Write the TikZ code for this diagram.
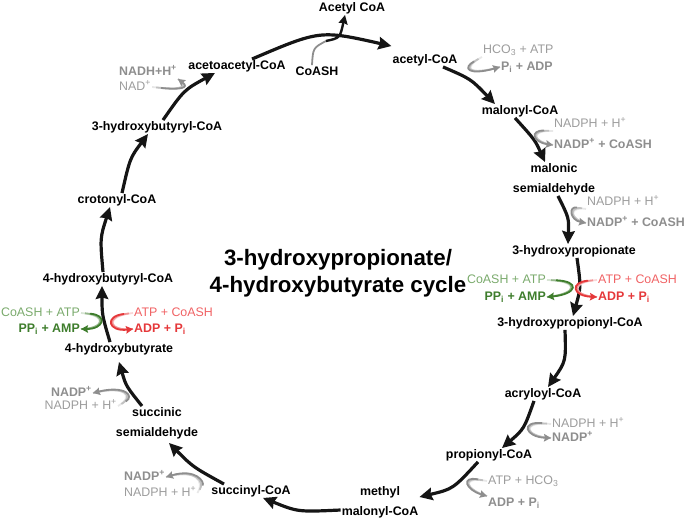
\documentclass[tikz,border=0pt]{standalone}
\usepackage{fontspec}
\setmainfont{Liberation Sans}
\usepackage{tikz}
\usetikzlibrary{arrows.meta}

\definecolor{cofgray}{HTML}{8E8E8E}
\definecolor{txtgray}{HTML}{9C9C9C}
\definecolor{darkgreen}{HTML}{3E7D2C}
\definecolor{lightgreen}{HTML}{7AAA6C}
\definecolor{brightred}{HTML}{E5383A}
\definecolor{lightred}{HTML}{F06264}
\definecolor{arrowblack}{HTML}{151515}

\begin{document}
\begin{tikzpicture}[x=1pt, y=-1pt,
    metab/.style={font=\bfseries\fontsize{12.4}{20}\selectfont, inner sep=1pt,
      text height=9pt, text depth=2.5pt},
    metabtwo/.style={font=\bfseries\fontsize{12.4}{20}\selectfont, inner sep=1pt,
      align=center},
    cofreg/.style={font=\fontsize{12.4}{14}\selectfont, inner sep=1pt,
      text height=9pt, text depth=2.5pt, text=txtgray},
    cofbold/.style={cofreg, font=\bfseries\fontsize{12.4}{14}\selectfont, text=cofgray},
    cycletitle/.style={font=\bfseries\fontsize{22.3}{27}\selectfont, align=center},
    mainarrow/.style={draw=arrowblack, line width=3.2pt,
      -{Stealth[length=13pt, width=12.5pt, inset=1.5pt]}},
    % cofactor arrows fade in from their start
    cofarrow/.style={line width=1.8pt, draw=#1, shorten <=9pt,
      -{Stealth[length=7pt, width=7.5pt, inset=1pt]},
      preaction={draw=#1!20, line width=1.8pt, shorten <=0pt, -},
      preaction={draw=#1!55, line width=1.8pt, shorten <=4pt, -}},
  ]
  \useasboundingbox (0,0) rectangle (685,519);

  % metabolites of the cycle
  \node[metab] (acetoacetyl) at (237,66) {acetoacetyl-CoA};
  \node[metab] (acetyl) at (425,60) {acetyl-CoA};
  \node[metab] (acetylout) at (352,8) {Acetyl CoA};
  \node[metab] (coash) at (317,72) {CoASH};
  \node[metab] (malonyl) at (520,111) {malonyl-CoA};
  \node[metabtwo] (malonicsa) at (554,179) {malonic\\semialdehyde};
  \node[metab] (hp) at (574,251) {3-hydroxypropionate};
  \node[metab] (hpcoa) at (570,323) {3-hydroxypropionyl-CoA};
  \node[metab] (acryloyl) at (543,394) {acryloyl-CoA};
  \node[metab] (propionyl) at (489,455) {propionyl-CoA};
  \node[metabtwo] (methylmalonyl) at (380,502) {methyl\\malonyl-CoA};
  \node[metab] (succinyl) at (251,491) {succinyl-CoA};
  \node[metabtwo] (succinicsa) at (157,423) {succinic\\semialdehyde};
  \node[metab] (hb) at (119,349) {4-hydroxybutyrate};
  \node[metab] (hbcoa) at (108,279) {4-hydroxybutyryl-CoA};
  \node[metab] (crotonyl) at (117,200) {crotonyl-CoA};
  \node[metab] (hbucoa) at (157,127) {3-hydroxybutyryl-CoA};

  \node[cycletitle] (cycle) at (338,273) {3-hydroxypropionate/\\4-hydroxybutyrate cycle};

  % cofactors
  \node[cofreg, anchor=west] (hco3atp) at (482,50) {HCO\textsubscript{3} + ATP};
  \node[cofbold, anchor=west] (piadp) at (500,67) {P\textsubscript{i} + ADP};
  \node[cofreg, anchor=west] (nadph1) at (553,124) {NADPH + H\textsuperscript{+}};
  \node[cofbold, anchor=west] (nadp1) at (553,145) {NADP\textsuperscript{+} + CoASH};
  \node[cofreg, anchor=west] (nadph2) at (586,202) {NADPH + H\textsuperscript{+}};
  \node[cofbold, anchor=west] (nadp2) at (586,223) {NADP\textsuperscript{+} + CoASH};
  \node[cofreg, anchor=east, text=lightgreen] (coashatp1) at (547,280) {CoASH + ATP};
  \node[cofbold, anchor=east, text=darkgreen] (ppiamp1) at (547,297) {PP\textsubscript{i} + AMP};
  \node[cofreg, anchor=west, text=lightred] (atpcoash1) at (597,280) {ATP + CoASH};
  \node[cofbold, anchor=west, text=brightred] (adppi1) at (597,297) {ADP + P\textsubscript{i}};
  \node[cofreg, anchor=west] (nadph3) at (551,424) {NADPH + H\textsuperscript{+}};
  \node[cofbold, anchor=west] (nadp3) at (551,438) {NADP\textsuperscript{+}};
  \node[cofreg, anchor=west] (atphco3) at (487,481) {ATP + HCO\textsubscript{3}};
  \node[cofbold, anchor=west] (adppi2) at (487,503) {ADP + P\textsubscript{i}};
  \node[cofbold, anchor=west] (nadp4) at (123,477) {NADP\textsuperscript{+}};
  \node[cofreg, anchor=west] (nadph4) at (123,493) {NADPH + H\textsuperscript{+}};
  \node[cofbold, anchor=east] (nadp5) at (93,393) {NADP\textsuperscript{+}};
  \node[cofreg, anchor=east] (nadph5) at (118,406) {NADPH + H\textsuperscript{+}};
  \node[cofreg, anchor=east, text=lightgreen] (coashatp2) at (81,313) {CoASH + ATP};
  \node[cofbold, anchor=east, text=darkgreen] (ppiamp2) at (81,329) {PP\textsubscript{i} + AMP};
  \node[cofreg, anchor=west, text=lightred] (atpcoash2) at (133,313) {ATP + CoASH};
  \node[cofbold, anchor=west, text=brightred] (adppi3) at (133,329) {ADP + P\textsubscript{i}};
  \node[cofbold, anchor=west] (nadhh) at (118,72) {NADH+H\textsuperscript{+}};
  \node[cofreg, anchor=west] (nad) at (118,87) {NAD\textsuperscript{+}};

  % main cycle
  \draw[mainarrow] ([xshift=15pt]acetoacetyl.north) .. controls (320,30) .. ([yshift=7pt]acetyl.north west);
  \draw[mainarrow] ([xshift=18pt]acetyl.south) .. controls (471,79) .. ([xshift=-25pt]malonyl.north);
  \draw[mainarrow] ([xshift=-5pt]malonyl.south) .. controls (535,140) .. ([xshift=-9pt]malonicsa.north);
  \draw[mainarrow] ([xshift=4pt]malonicsa.south) .. controls (569,218) .. ([xshift=-6pt]hp.north);
  \draw[mainarrow] ([xshift=3pt]hp.south) .. controls (581,287) .. ([xshift=3pt]hpcoa.north);
  \draw[mainarrow] ([xshift=-5pt]hpcoa.south) .. controls (566,361) .. ([xshift=5pt]acryloyl.north);
  \draw[mainarrow] ([xshift=-9pt]acryloyl.south) .. controls (524,429) .. ([xshift=13pt]propionyl.north);
  \draw[mainarrow] ([xshift=-11pt]propionyl.south) .. controls (453,489) .. ([yshift=5pt]methylmalonyl.east);
  \draw[mainarrow] ([yshift=-8pt]methylmalonyl.west) .. controls (298,512) .. ([xshift=12pt]succinyl.south);
  \draw[mainarrow] ([xshift=-27pt]succinyl.north) .. controls (193,467) .. ([xshift=12pt,yshift=-3pt]succinicsa.south);
  \draw[mainarrow] ([xshift=-15pt]succinicsa.north) .. controls (126,386) .. ([yshift=-6pt]hb.south);
  \draw[mainarrow] ([xshift=-9pt]hb.north) .. controls (102,315) .. ([xshift=-6pt]hbcoa.south);
  \draw[mainarrow] ([xshift=-5pt]hbcoa.north) .. controls (100,238) .. ([xshift=-7pt]crotonyl.south);
  \draw[mainarrow] ([xshift=5pt]crotonyl.north) .. controls (130,158) .. ([xshift=-9pt]hbucoa.south);
  \draw[mainarrow] ([xshift=6pt]hbucoa.north) .. controls (184,90) .. ([xshift=-22pt]acetoacetyl.south);

  % CoASH joins and acetyl-CoA leaves
  \coordinate (join) at (326,41);
  \draw[cofgray, line width=1.8pt] ([xshift=-5pt]coash.north) .. controls (313,48) .. (join);
  \draw[arrowblack, line width=2.4pt, -{Stealth[length=9pt, width=9pt, inset=1pt]}]
    (join) .. controls (340,38) .. ([xshift=-7pt]acetylout.south);

  % cofactor arrows
  \draw[cofarrow=cofgray] (hco3atp.south west) .. controls (462,68) and (468,76) .. (piadp.west);
  \draw[cofarrow=cofgray] (nadph1.south west) .. controls (530,130) and (532,142) .. (nadp1.west);
  \draw[cofarrow=cofgray] (nadph2.south west) .. controls (568,206) and (570,220) .. (nadp2.west);
  \draw[cofarrow=darkgreen] (coashatp1.east) .. controls (580,281) and (578,294) .. (ppiamp1.east);
  \draw[cofarrow=brightred] (atpcoash1.west) .. controls (570,282) and (572,296) .. (adppi1.west);
  \draw[cofarrow=cofgray] (nadph3.west) .. controls (520,421) and (525,437) .. (nadp3.west);
  \draw[cofarrow=cofgray] (atphco3.west) .. controls (460,476) and (466,490) .. (adppi2.north west);
  \draw[cofarrow=cofgray] (nadph4.east) .. controls (205,482) and (196,468) .. (nadp4.east);
  \draw[cofarrow=cofgray] (nadph5.east) .. controls (135,396) and (125,385) .. (nadp5.east);
  \draw[cofarrow=darkgreen] (coashatp2.east) .. controls (108,315) and (104,329) .. (ppiamp2.east);
  \draw[cofarrow=brightred] (atpcoash2.west) .. controls (104,316) and (108,332) .. (adppi3.west);
  \draw[cofarrow=cofgray] (nad.east) .. controls (180,90) and (190,88) .. (nadhh.south east);
\end{tikzpicture}
\end{document}
